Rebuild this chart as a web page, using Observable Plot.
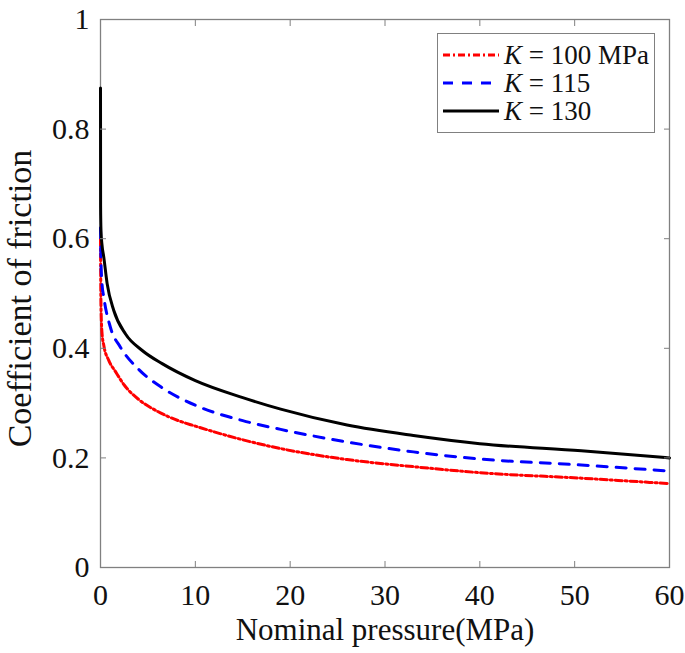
<!DOCTYPE html>
<div id="wrap">
<div id="plot"></div>
<div id="legend"></div>
</div>
<script src="https://cdn.jsdelivr.net/npm/d3@7"></script>
<script src="https://cdn.jsdelivr.net/npm/@observablehq/plot@0.6"></script>
<script>

// nominal pressure (MPa) and coefficient of friction
const p_k100 = [0, 0.05, 0.15, 0.35, 0.87, 1.6, 2.5, 4, 6, 8.2, 10, 15, 19, 26, 33, 40, 50.7, 60];
const mu_k100 = [0.6, 0.48, 0.43, 0.405, 0.378, 0.357, 0.333, 0.307, 0.285, 0.268, 0.258, 0.233, 0.217, 0.197, 0.184, 0.173, 0.163, 0.153];

const p_k115 = [0, 0.05, 0.15, 0.35, 1.05, 2.1, 4, 6.5, 10, 15, 19, 26, 33, 40, 50.7, 60];
const mu_k115 = [0.62, 0.56, 0.52, 0.493, 0.438, 0.402, 0.362, 0.328, 0.296, 0.268, 0.252, 0.229, 0.211, 0.198, 0.187, 0.176];

const p_k130 = [0, 0.01, 0.05, 0.15, 0.35, 0.7, 1.4, 2.64, 4.4, 6.5, 10, 15, 19, 26, 33, 40, 50.7, 60];
const mu_k130 = [0.875, 0.66, 0.615, 0.59, 0.566, 0.518, 0.469, 0.426, 0.396, 0.372, 0.341, 0.31, 0.289, 0.26, 0.241, 0.226, 0.213, 0.2];

const series = [
	{label: '100 MPa', p: p_k100, mu: mu_k100, color: '#ff0000', dash: '7 3 2 3'},
	{label: '115', p: p_k115, mu: mu_k115, color: '#0000ff', dash: '10 9'},
	{label: '130', p: p_k130, mu: mu_k130, color: '#000000', dash: null},
];

const xTicks = [0, 10, 20, 30, 40, 50, 60];
const yTicks = [0, 0.2, 0.4, 0.6, 0.8, 1];
const xLabel = 'Nominal pressure(MPa)';
const yLabel = 'Coefficient of friction';

let marks = [];
for (let s of series) {
	let rows = s.p.map((p, i) => ({p: p, mu: s.mu[i]}));
	marks.push(Plot.line(rows, {x: 'p', y: 'mu', stroke: s.color, strokeWidth: 3, strokeDasharray: s.dash, curve: 'monotone-x'}));
}

const plot = Plot.plot({
	width: 685,
	height: 653,
	marginLeft: 100,
	marginRight: 16,
	marginTop: 19,
	marginBottom: 86,
	style: {fontFamily: '"Liberation Serif", serif', color: '#111', background: 'white'},
	x: {domain: [0, 60]},
	y: {domain: [0, 1]},
	marks: [
		Plot.frame({stroke: '#808080', strokeWidth: 1.3}),
		...marks,
		Plot.axisX(xTicks, {tickSize: 0, tickPadding: 16, fontSize: 30, label: null}),
		Plot.axisX(xTicks, {tickSize: -6, tickFormat: () => '', stroke: '#808080', label: null}),
		Plot.axisX(xTicks, {anchor: 'top', tickSize: -6, tickFormat: () => '', stroke: '#808080', label: null}),
		Plot.axisY(yTicks, {tickSize: 0, tickPadding: 11, fontSize: 30, tickFormat: d => String(d), label: null}),
		Plot.axisY(yTicks, {tickSize: -6, tickFormat: () => '', stroke: '#808080', label: null}),
		Plot.axisY(yTicks, {anchor: 'right', tickSize: -6, tickFormat: () => '', stroke: '#808080', label: null}),
		Plot.text([xLabel], {text: d => d, frameAnchor: 'bottom', textAnchor: 'middle', lineAnchor: 'middle', dy: 63, fontSize: 31, fill: '#111'}),
		Plot.text([yLabel], {text: d => d, frameAnchor: 'left', textAnchor: 'middle', lineAnchor: 'middle', rotate: -90, dx: -80, dy: 5, fontSize: 34, fill: '#111'}),
	],
});

document.querySelector('#plot').append(plot);

// legend box inside the axes, top right
const legend = document.querySelector('#legend');
for (let s of series) {
	let row = document.createElement('div');
	row.className = 'row';
	row.innerHTML = `<svg width="56" height="10"><line x1="0" y1="5" x2="56" y2="5" stroke="${s.color}" stroke-width="3" ${s.dash ? `stroke-dasharray="${s.dash}"` : ''}/></svg><span><i>K</i> = ${s.label}</span>`;
	legend.append(row);
}

</script>
<style>

html, body {
	margin: 0;
	background: white;
}

#wrap {
	position: relative;
	width: 685px;
	height: 653px;
}

#plot svg, #plot svg text, #legend {
	font-family: "Liberation Serif", "Times New Roman", serif !important;
}

#plot svg text {
	fill: #111;
}

#legend {
	position: absolute;
	left: 437px;
	top: 33px;
	width: 218px;
	height: 100px;
	border: 1.3px solid #808080;
	background: white;
	font-size: 27px;
	color: #111;
	box-sizing: border-box;
	padding: 7px 0 0 5px;
}

#legend .row {
	display: flex;
	align-items: center;
	height: 28px;
}

#legend svg {
	margin-right: 5px;
}

</style>
